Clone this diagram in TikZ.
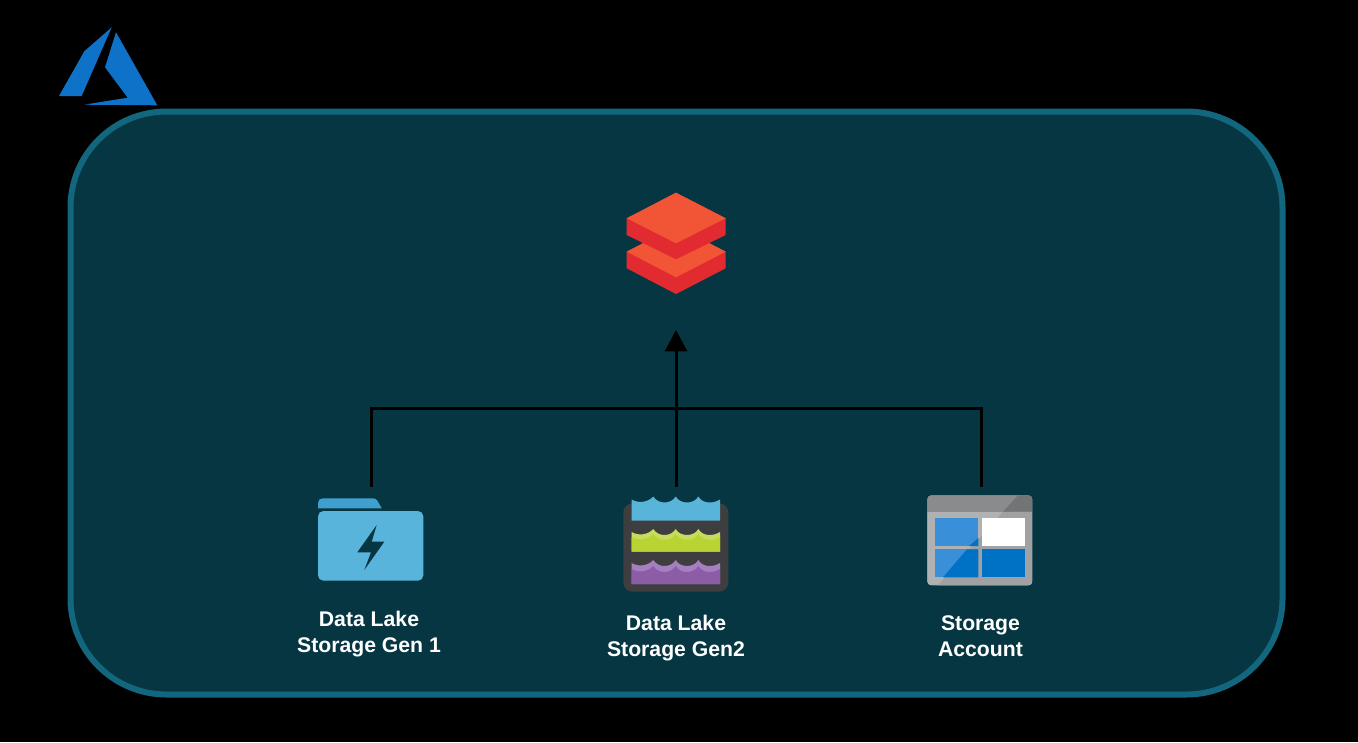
\documentclass[tikz,border=0pt]{standalone}
\usepackage{fontspec}
\setmainfont{Liberation Sans}
\usetikzlibrary{arrows.meta}
\definecolor{panelfill}{HTML}{063642}
\definecolor{panelline}{HTML}{12677E}
\definecolor{azure}{HTML}{0F72C9}
\definecolor{dbtop}{HTML}{F25535}
\definecolor{dbside}{HTML}{E12B30}
\definecolor{foldermain}{HTML}{59B4DC}
\definecolor{foldertab}{HTML}{3FA0CF}
\definecolor{lakegray}{HTML}{3E3E40}
\definecolor{lakeblue}{HTML}{59B4D9}
\definecolor{lakegreen}{HTML}{B8D432}
\definecolor{lakegreenl}{HTML}{C5DC5C}
\definecolor{lakepurple}{HTML}{8C5DA6}
\definecolor{lakepurplel}{HTML}{A67FC0}
\definecolor{stbody}{HTML}{A0A1A3}
\definecolor{stbodyl}{HTML}{B0B1B3}
\definecolor{sthead}{HTML}{8A8B8C}
\definecolor{stheadd}{HTML}{737475}
\definecolor{cellblue}{HTML}{0072C6}
\definecolor{celllight}{HTML}{3A90D8}
\tikzset{
  x=0.75pt,y=-0.75pt,
  label text/.style={text=white,font=\fontsize{15.9}{19.5}\selectfont\bfseries,align=center,inner sep=0pt},
  link/.style={draw=black,line width=2.25pt},
  panel/.style={draw=panelline,fill=panelfill,line width=4.5pt,rounded corners=72pt},
}
\newcommand{\wavetop}[1]{(631.7,#1+3) .. controls (638,#1+7) and (648,#1+6) .. (653.3,#1) .. controls (658,#1+8) and (671,#1+8) .. (675.7,#1) .. controls (680,#1+8) and (694,#1+8) .. (698.3,#1) .. controls (703,#1+8) and (714,#1+7) .. (720,#1+3)}
\begin{document}
\begin{tikzpicture}
\useasboundingbox (0,0) rectangle (1358,742);
\fill[black] (0,0) rectangle (1358,742);
% panel
\path[panel] (70.5,111.5) rectangle (1282.5,694.5);
% azure logo
\fill[azure] (111.7,27.3) -- (84.3,51.3) -- (59,96) -- (81.7,96) -- cycle;
\fill[azure] (116,32.3) -- (157.3,105.3) -- (84,104.7) -- (127.7,97.7) -- (105,67.3) -- cycle;
% databricks logo
\fill[dbside] (626.7,251.7) -- (676,226) -- (725.7,251.7) -- (725.7,268.3) -- (676,294) -- (626.7,268.3) -- cycle;
\fill[dbtop] (626.7,251.7) -- (676,226) -- (725.7,251.7) -- (676,277.3) -- cycle;
\fill[dbside] (626.7,218.3) -- (676,192.7) -- (725.7,218.3) -- (725.7,235) -- (676,259.3) -- (626.7,235) -- cycle;
\fill[dbtop] (626.7,218.3) -- (676,192.7) -- (725.7,218.3) -- (676,243.3) -- cycle;
% folder icon
\fill[foldertab] (318,508.3) -- (318,503) .. controls (318,500) and (320,498.3) .. (323,498.3) -- (373,498.3) .. controls (377,498.3) and (378,502) .. (381.7,508.3) -- cycle;
\fill[foldermain,rounded corners=4pt] (318,511) rectangle (423.3,580.7);
\fill[panelfill] (376.7,525) -- (357.3,552.3) -- (371,552.3) -- (364.3,570) -- (384.3,541.7) -- (371.7,541.7) -- cycle;
% lake icon
\fill[lakegray,rounded corners=7pt] (623.3,503.3) -- (623.3,591.7) -- (728.3,591.7) -- (728.3,503.3) -- cycle;
\fill[lakeblue] \wavetop{496.5} -- (720,520.7) -- (631.7,520.7) -- cycle;
\fill[lakegreenl] \wavetop{529} -- (720,551.7) -- (631.7,551.7) -- cycle;
\fill[lakegreen] \wavetop{534} -- (720,551.7) -- (631.7,551.7) -- cycle;
\fill[lakepurplel] \wavetop{560} -- (720,584) -- (631.7,584) -- cycle;
\fill[lakepurple] \wavetop{566} -- (720,584) -- (631.7,584) -- cycle;
% storage icon
\fill[stbody,rounded corners=3pt] (927.3,495.3) rectangle (1032.3,585.3);
\begin{scope}
  \clip[rounded corners=3pt] (927.3,495.3) rectangle (1032.3,585.3);
  \fill[stbodyl] (927.3,511.7) rectangle (1032.3,585.3);
  \fill[stbody] (1003,511.7) -- (1032.3,511.7) -- (1032.3,585.3) -- (938,585.3) -- cycle;
  \fill[sthead] (927.3,495.3) rectangle (1032.3,511.7);
  \fill[stheadd] (1018,495.3) -- (1032.3,495.3) -- (1032.3,511.7) -- (1003,511.7) -- cycle;
\end{scope}
\fill[celllight] (935,518.3) rectangle (978.3,546);
\fill[white] (981.7,518.3) rectangle (1025,546);
\fill[celllight] (935,549.3) rectangle (978.3,577.3);
\fill[cellblue] (981.7,549.3) rectangle (1025,577.3);
\fill[cellblue] (978.3,549.3) -- (978.3,577.3) -- (943,577.3) -- (967,549.3) -- cycle;
\fill[cellblue] (978.3,546) -- (978.3,538) -- (969,546) -- cycle;
% labels
\node[label text] (gen1) at (369,634.5) {Data Lake\\Storage Gen 1};
\node[label text] (gen2) at (676,638) {Data Lake\\Storage Gen2};
\node[label text] (account) at (980.5,636) {Storage\\Account};
% connectors
\coordinate (gen1top) at (371,487);
\coordinate (gen2top) at (676,487);
\coordinate (accounttop) at (981,487);
\coordinate (busleft) at (371,408);
\coordinate (busright) at (981,408);
\coordinate (bricks) at (676,330);
\draw[link] (gen1top) -- (busleft) -- (busright) -- (accounttop);
\draw[link,-{Triangle[length=16pt,width=16.5pt]}] (gen2top) -- (bricks);
\end{tikzpicture}
\end{document}
